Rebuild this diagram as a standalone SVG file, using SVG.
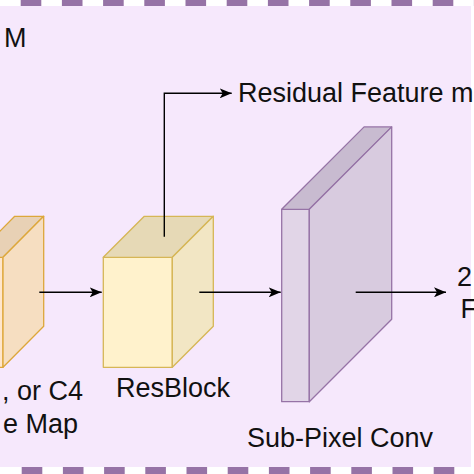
<svg xmlns="http://www.w3.org/2000/svg" width="474" height="474" viewBox="0 0 474 474">
<style>
.t{font-family:"Liberation Sans",Arial,sans-serif;font-size:27px;fill:#111}
.c{fill:none;stroke:#000;stroke-width:1.4}
.dash{stroke:#9673A6;fill:none;stroke-dasharray:20.6 20.6}
.org{stroke:#DDA73A;stroke-width:1.3;stroke-linejoin:round}
.yel{stroke:#D6B656;stroke-width:1.3;stroke-linejoin:round}
.pur{stroke:#9673A6;stroke-width:1.3;stroke-linejoin:round}
</style>
<defs>
<marker id="ah" viewBox="0 0 12 10" refX="12" refY="5" markerWidth="12" markerHeight="10" markerUnits="userSpaceOnUse" orient="auto">
<path d="M0,0 L12,5 L0,10 L3,5 Z" fill="#000"/>
</marker>
</defs>
<rect width="474" height="474" fill="#ffffff"/>
<g id="container">
<rect x="0" y="6" width="471" height="461" fill="#F6E8FC"/>
<line class="dash" x1="20.7" y1="3" x2="474" y2="3" stroke-width="6"/>
<line class="dash" x1="21.7" y1="470.5" x2="474" y2="470.5" stroke-width="7"/>
<text class="t" x="4" y="47">M</text>
</g>
<g id="feature-map">
<rect class="org" x="-26" y="257.3" width="29" height="110" fill="#FFE6CC"/>
<polygon class="org" points="-26,257.3 14.7,216.3 43.7,216.3 3,257.3" fill="#E8D1B5"/>
<polygon class="org" points="3,257.3 43.7,216.3 43.7,326.3 3,367.3" fill="#F6DEC1"/>
<text class="t" x="83" y="400" text-anchor="end">, or C4</text>
<text class="t" x="78" y="433" text-anchor="end">e Map</text>
</g>
<g id="resblock">
<rect class="yel" x="103.3" y="257.3" width="69" height="110" fill="#FFF2CC"/>
<polygon class="yel" points="103.3,257.3 144.3,216.3 213.3,216.3 172.3,257.3" fill="#E6D9B6"/>
<polygon class="yel" points="172.3,257.3 213.3,216.3 213.3,326.3 172.3,367.3" fill="#F2E6C4"/>
<text class="t" x="116" y="397.3">ResBlock</text>
</g>
<g id="subpixel-conv">
<rect class="pur" x="281.7" y="209.3" width="27.6" height="192.4" fill="#E1D5E7"/>
<polygon class="pur" points="281.7,209.3 364.1,126.9 391.7,126.9 309.3,209.3" fill="#C8BBD0"/>
<polygon class="pur" points="309.3,209.3 391.7,126.9 391.7,319.3 309.3,401.7" fill="#D8CBDF"/>
<text class="t" x="247" y="446.7">Sub-Pixel Conv</text>
</g>
<g id="residual-feature">
<text class="t" x="238" y="101.7">Residual Feature m</text>
</g>
<g id="output">
<text class="t" x="457" y="286">2</text>
<text class="t" x="460.5" y="318">F</text>
</g>
<g id="connectors">
<path class="c" d="M39.3,292.3 H101.7" marker-end="url(#ah)"/>
<path class="c" d="M199.3,292.3 H280.7" marker-end="url(#ah)"/>
<path class="c" d="M355.7,292.3 H446" marker-end="url(#ah)"/>
<path class="c" d="M164.3,236.7 V93.3 H231.7" marker-end="url(#ah)"/>
</g>
</svg>
